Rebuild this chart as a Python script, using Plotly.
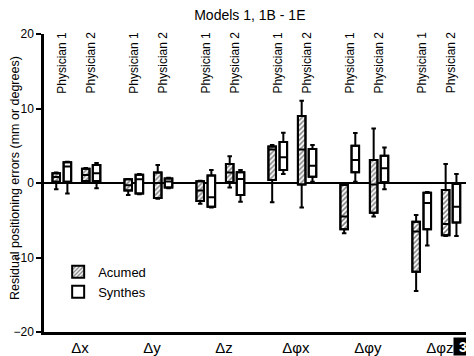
import plotly.graph_objects as go

categories = ["Δx", "Δy", "Δz", "Δφx", "Δφy", "Δφz"]
physicians = ["Physician 1", "Physician 2"]
brands = ["Acumed", "Synthes"]

# Acumed, Physician 1
acu_p1_lo = [-0.85, -1.6, -2.8, -2.6, -6.75, -14.5]
acu_p1_q1 = [0.17, -1.0, -2.4, 0.4, -6.2, -11.9]
acu_p1_med = [0.8, -0.3, -1.0, 4.5, -4.5, -6.5]
acu_p1_q3 = [1.3, 0.5, 0.25, 4.9, -0.27, -5.2]
acu_p1_hi = [1.4, 0.55, 0.3, 5.1, -0.2, -4.3]

# Synthes, Physician 1
syn_p1_lo = [-1.4, -1.5, -3.3, 1.2, 0.17, -8.4]
syn_p1_q1 = [0.17, -1.4, -3.2, 1.75, 1.43, -6.2]
syn_p1_med = [2.2, 0.5, -1.9, 3.45, 3.1, -2.7]
syn_p1_q3 = [2.8, 1.1, 1.0, 5.5, 5.0, -1.3]
syn_p1_hi = [2.85, 1.2, 1.75, 6.75, 6.7, -1.2]

# Acumed, Physician 2
acu_p2_lo = [0.2, -2.1, -0.6, -3.3, -4.5, -7.1]
acu_p2_q1 = [0.27, -2.0, 0.13, -0.2, -4.0, -7.0]
acu_p2_med = [1.07, 0.0, 1.4, 4.5, -0.2, -5.5]
acu_p2_q3 = [1.9, 1.4, 2.55, 9.0, 3.1, -0.94]
acu_p2_hi = [2.0, 2.4, 3.6, 11.05, 7.3, 2.55]

# Synthes, Physician 2
syn_p2_lo = [-0.7, -0.7, -2.5, 0.17, -0.85, -7.1]
syn_p2_q1 = [0.27, -0.6, -1.6, 0.85, 0.1, -5.3]
syn_p2_med = [1.3, 0.2, 0.54, 2.3, 1.97, -3.2]
syn_p2_q3 = [2.4, 0.6, 1.43, 4.56, 3.67, -0.13]
syn_p2_hi = [2.7, 0.7, 1.75, 5.1, 4.75, 1.2]

y_ticks = [-20, -10, 0, 10, 20]

FONT = "Liberation Sans, Arial, Helvetica, sans-serif"
BOXW = 0.105

series = [
    ("Acumed", -0.33, acu_p1_lo, acu_p1_q1, acu_p1_med, acu_p1_q3, acu_p1_hi),
    ("Synthes", -0.175, syn_p1_lo, syn_p1_q1, syn_p1_med, syn_p1_q3, syn_p1_hi),
    ("Acumed", 0.08, acu_p2_lo, acu_p2_q1, acu_p2_med, acu_p2_q3, acu_p2_hi),
    ("Synthes", 0.23, syn_p2_lo, syn_p2_q1, syn_p2_med, syn_p2_q3, syn_p2_hi),
]

fig = go.Figure()
shown = set()
for brand, off, lo, q1, med, q3, hi in series:
    xs = [i + off for i in range(len(categories))]
    hatched = brand == "Acumed"
    pattern = dict(shape="/", fgcolor="black", bgcolor="white", size=3.5, solidity=0.45) if hatched else dict(shape="")
    fig.add_trace(go.Bar(
        x=xs, y=[b - a for a, b in zip(q1, q3)], base=q1, width=BOXW,
        marker=dict(color="white", line=dict(color="black", width=2), pattern=pattern),
        name=brand, showlegend=brand not in shown, legendgroup=brand, hoverinfo="skip",
    ))
    shown.add(brand)
    fig.add_trace(go.Box(
        x=xs, q1=q1, median=med, q3=q3, lowerfence=lo, upperfence=hi,
        width=BOXW, whiskerwidth=0.6, boxpoints=False,
        fillcolor="rgba(0,0,0,0)", line=dict(color="black", width=2),
        showlegend=False, legendgroup=brand, name=brand,
    ))

annotations = []
for i in range(len(categories)):
    for off, label in [(-0.245, physicians[0]), (0.155, physicians[1])]:
        annotations.append(dict(
            x=i + off, y=16.2, xref="x", yref="y", text=label, textangle=-90,
            xanchor="center", yanchor="middle",
            showarrow=False, font=dict(size=12, color="black", family=FONT),
        ))
# y-axis title
annotations.append(dict(
    x=0, y=0.5, xref="paper", yref="paper", xshift=-29, yshift=5,
    xanchor="center", yanchor="middle",
    text="Residual positioning errors (mm or degrees)", textangle=-90, showarrow=False,
    font=dict(size=12.5, color="black", family=FONT),
))
# panel badge
annotations.append(dict(
    x=1.0, y=-0.0805, xref="paper", yref="paper", xanchor="right", yanchor="bottom",
    text="<b>3</b>", showarrow=False, bgcolor="black", width=18, height=17,
    font=dict(size=14, color="white", family=FONT), borderpad=0,
))

fig.update_layout(
    width=466, height=348,
    margin=dict(l=36, r=1, t=26, b=24),
    paper_bgcolor="white", plot_bgcolor="white",
    font=dict(family=FONT, color="black"),
    title=dict(text="Models 1, 1B - 1E", x=0.519, xanchor="center", y=0.981, yanchor="middle",
               font=dict(size=14, color="black")),
    barmode="overlay", boxmode="overlay",
    showlegend=True,
    legend=dict(x=0.033, y=0.252, xanchor="left", yanchor="top", bgcolor="rgba(0,0,0,0)",
                font=dict(size=13), tracegroupgap=0, itemwidth=30),
    annotations=annotations,
    shapes=[dict(type="line", xref="paper", yref="y", x0=0, x1=1, y0=0, y1=0,
                 line=dict(color="black", width=2), layer="below")],
)
fig.update_xaxes(
    range=[-0.5, 5.46], tickvals=list(range(len(categories))), ticktext=categories,
    showline=True, linecolor="black", linewidth=2.5, ticks="", showgrid=False, zeroline=False,
    tickfont=dict(size=15, color="black"),
)
fig.update_yaxes(
    range=[-20, 20], tickvals=y_ticks, ticks="outside", ticklen=5, tickwidth=2, tickcolor="black",
    showline=True, linecolor="black", linewidth=2.5, showgrid=False, zeroline=False,
    tickfont=dict(size=12, color="black"),
)

fig.write_html("out.html")
